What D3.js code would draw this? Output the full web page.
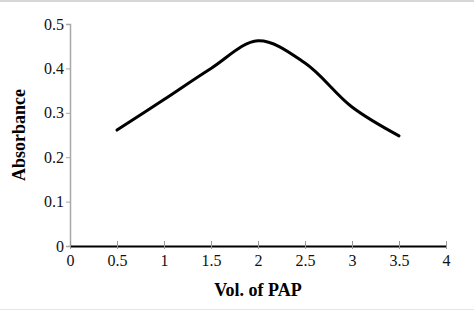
<!DOCTYPE html>
<html>
<head>
<meta charset="utf-8">
<script src="https://cdn.jsdelivr.net/npm/d3@7"></script>
<style>
  body { margin: 0; background: #fff; }
  svg { display: block; }
</style>
</head>
<body>
<svg id="chart" width="474" height="312"></svg>
<script>
// data
const vol = [0.5, 1, 1.5, 2, 2.5, 3, 3.5];
const absorbance = [0.261, 0.330, 0.400, 0.462, 0.412, 0.313, 0.248];
const xTicks = [0, 0.5, 1, 1.5, 2, 2.5, 3, 3.5, 4];
const yTicks = [0, 0.1, 0.2, 0.3, 0.4, 0.5];

const serif = "'Liberation Serif', 'Times New Roman', serif";

const svg = d3.select("#chart");
const width = +svg.attr("width");
const height = +svg.attr("height");

// light grey frame lines at top and bottom of the image
svg.append("rect").attr("x", 0).attr("y", 0).attr("width", width).attr("height", 2).attr("fill", "#d6d6d6");
svg.append("rect").attr("x", 0).attr("y", 309).attr("width", width).attr("height", 1).attr("fill", "#e4e4e4");

const margin = { top: 24, right: 28, bottom: 66, left: 70 };
const innerWidth = width - margin.left - margin.right;
const innerHeight = height - margin.top - margin.bottom;

const x = d3.scaleLinear().domain([0, 4]).range([0, innerWidth]);
const y = d3.scaleLinear().domain([0, 0.5]).range([innerHeight, 0]);

const g = svg.append("g").attr("transform", `translate(${margin.left},${margin.top})`);

// y axis - grey line, ticks outward
const yAxis = g.append("g")
    .call(d3.axisLeft(y).tickValues(yTicks).tickSize(4).tickPadding(2)
        .tickFormat(d => d === 0 ? "0" : d3.format(".1f")(d)))
    .attr("font-family", serif)
    .attr("font-size", 16);
yAxis.select(".domain").attr("stroke", "#a8a8a8").attr("stroke-width", 1.5);
yAxis.selectAll(".tick line").attr("stroke", "#a8a8a8");
yAxis.selectAll("text").attr("font-family", serif).attr("fill", "#111");

// x axis - black line, ticks crossing
const xAxis = g.append("g")
    .attr("transform", `translate(0,${innerHeight})`)
    .call(d3.axisBottom(x).tickValues(xTicks).tickSizeInner(-5).tickSizeOuter(0).tickPadding(9)
        .tickFormat(d => d3.format("")(d)))
    .attr("font-family", serif)
    .attr("font-size", 16);
xAxis.select(".domain").attr("stroke", "#000").attr("stroke-width", 2);
xAxis.selectAll(".tick line").attr("stroke", "#999").attr("y2", -5).attr("y1", 3);
xAxis.selectAll("text").attr("font-family", serif).attr("fill", "#111");

// curve
const line = d3.line()
    .x((d, i) => x(vol[i]))
    .y(d => y(d))
    .curve(d3.curveCatmullRom.alpha(0.5));

g.append("path")
    .datum(absorbance)
    .attr("fill", "none")
    .attr("stroke", "#000")
    .attr("stroke-width", 3)
    .attr("stroke-linecap", "round")
    .attr("d", line);

// axis titles
svg.append("text")
    .attr("x", margin.left + innerWidth / 2)
    .attr("y", 296)
    .attr("text-anchor", "middle")
    .attr("font-family", serif)
    .attr("font-size", 18)
    .attr("font-weight", "bold")
    .text("Vol. of PAP");

svg.append("text")
    .attr("transform", `translate(25,${margin.top + innerHeight / 2}) rotate(-90)`)
    .attr("text-anchor", "middle")
    .attr("font-family", serif)
    .attr("font-size", 18)
    .attr("font-weight", "bold")
    .text("Absorbance");
</script>
</body>
</html>
